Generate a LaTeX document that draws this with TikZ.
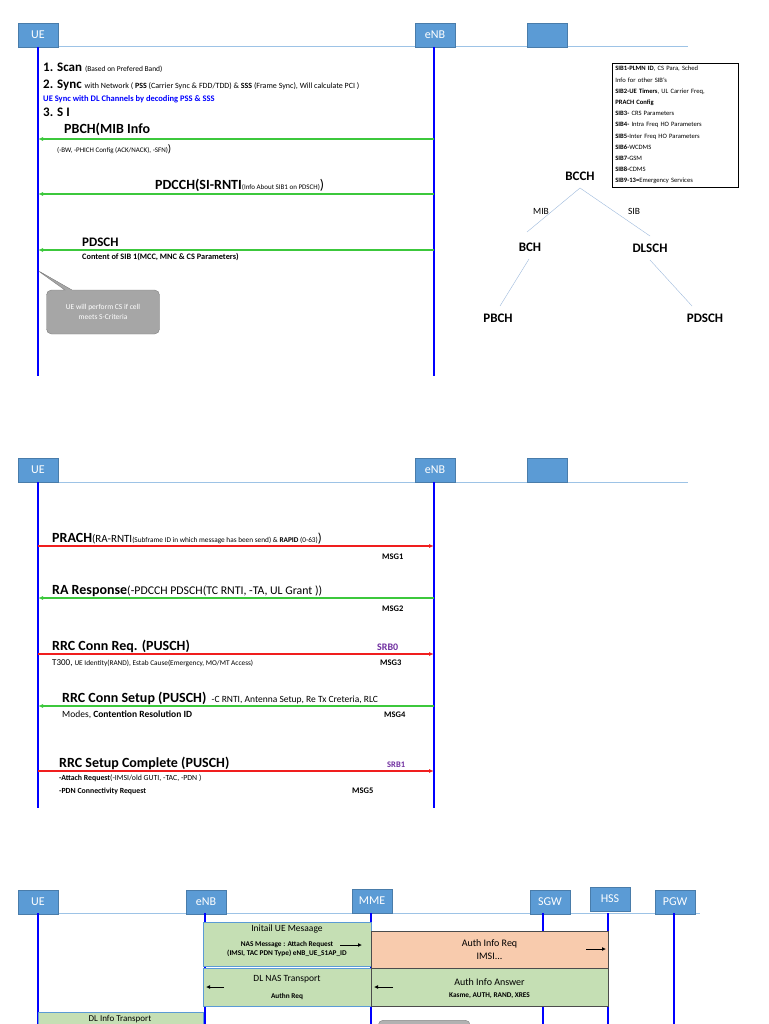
\documentclass[tikz,border=0pt]{standalone}
\usepackage{fontspec}
\setmainfont{Carlito}
\usetikzlibrary{arrows.meta,shapes.callouts}
\newcommand\fs[1]{\fontsize{#1}{#1}\selectfont}
\definecolor{hdr}{HTML}{5B9BD5}
\definecolor{hdrline}{HTML}{9DC3E6}
\definecolor{gr}{HTML}{3CC83C}
\definecolor{rd}{HTML}{F01E1E}
\definecolor{lgreen}{HTML}{C5DFB4}
\definecolor{lorange}{HTML}{F8CBAD}
\definecolor{pur}{HTML}{7030A0}
\definecolor{tree}{HTML}{9DB9DB}
\tikzset{
 hbox/.style={fill=hdr,draw=hdr!80!black,line width=0.4pt,text=white,font=\fontsize{12}{12}\selectfont,minimum width=40,minimum height=24,inner sep=0pt},
 life/.style={blue,line width=1.5pt},
 hline/.style={hdrline,line width=1pt},
 dl/.style={gr,line width=1.6pt,-{Latex[length=5pt,width=4pt]}},
 ul/.style={rd,line width=1.6pt,-{Latex[length=5pt,width=4pt]}},
 lab/.style={anchor=base west,inner sep=0pt},
 sm/.style={font=\fontsize{8.5}{9}\selectfont},
 tr/.style={font=\bfseries\fontsize{13}{13}\selectfont,inner sep=1pt},
 bx/.style={draw=black!70,line width=0.6pt,inner sep=0pt,align=center},
 sarr/.style={line width=1pt,-{Latex[length=4pt,width=4pt]}},
}
\begin{document}
\begin{tikzpicture}[x=1pt,y=-1pt]
\useasboundingbox (0,0) rectangle (768,1024);
\clip (0,0) rectangle (768,1024);
% ---------- section 1
\draw[hline] (18,47) -- (688,47);
\node[hbox] (ue1) at (38,35) {UE};
\node[hbox] (enb1) at (435,35) {eNB};
\node[hbox] (x1) at (547,35) {};
\coordinate (ue1b) at (38,376); \coordinate (enb1b) at (434,376);
\draw[life] (38,47) -- (ue1b);
\draw[life] (434,47) -- (enb1b);
\node[lab] (t1) at (43,72) {\fs{13}\bfseries 1. Scan \fs{7.5}\mdseries(Based on Prefered Band)};
\node[lab] (t2) at (43,89) {\fs{13}\bfseries 2. Sync \fs{8}\mdseries with Network ( \textbf{PSS} (Carrier Sync \& FDD/TDD) \& \textbf{SSS} (Frame Sync), Will calculate PCI )};
\node[lab,text=blue] (t3) at (43,102) {\fs{8.5}\bfseries UE Sync with DL Channels by decoding PSS \& SSS};
\node[lab] (t4) at (43,117) {\fs{13}\bfseries 3. S I};
\coordinate (a1s) at (434,139); \coordinate (a1e) at (38,139);
\draw[dl] (a1s) -- (a1e);
\node[lab] (l1) at (64,134) {\fs{14}\bfseries PBCH(MIB Info};
\node[lab] (l1b) at (57,153) {\fs{7}(-BW, -PHICH Config (ACK/NACK), -SFN)\fs{11})};
\coordinate (a2s) at (434,194); \coordinate (a2e) at (38,194);
\draw[dl] (a2s) -- (a2e);
\node[lab] (l2) at (155,190) {\fs{14}\bfseries PDCCH(SI-RNTI\fs{7}\mdseries(Info About SIB1 on PDSCH)\fs{14})};
\coordinate (a3s) at (434,250); \coordinate (a3e) at (38,250);
\draw[dl] (a3s) -- (a3e);
\node[lab] (l3) at (82,246) {\fs{13}\bfseries PDSCH};
\node[lab] (l3b) at (82,259) {\fs{8.3}\bfseries Content of SIB 1(MCC, MNC \& CS Parameters)};
\node[rectangle callout,rounded corners=5pt,fill=black!35,draw=black!50,text=white,minimum width=113,minimum height=44,align=center,font=\fontsize{7.5}{10}\selectfont,callout absolute pointer={(37,270)}] (co) at (103,312) {UE will perform CS if cell\\meets S-Criteria};
\node[draw,line width=0.7pt,anchor=north west,text width=120,inner sep=3pt,align=left,font=\fontsize{6.6}{11.2}\selectfont] (sib) at (612,63) {%
\textbf{SIB1-PLMN ID}, CS Para, Sched\\ Info for other SIB's\\
\textbf{SIB2-UE Timers}, UL Carrier Freq,\\ \textbf{PRACH Config}\\
\textbf{SIB3-} CRS Parameters\\
\textbf{SIB4-} Intra Freq HO Parameters\\
\textbf{SIB5-}Inter Freq HO Parameters\\
\textbf{SIB6-}WCDMS\\
\textbf{SIB7-}GSM\\
\textbf{SIB8-}CDMS\\
\textbf{SIB9-13=}Emergency Services};
\node[tr] (bcch) at (580,176) {BCCH};
\node[tr] (bch) at (530,247) {BCH};
\node[tr] (dlsch) at (650,248) {DLSCH};
\node[tr] (pbch) at (498,318) {PBCH};
\node[tr] (pdsch) at (705,318) {PDSCH};
\node[font=\fontsize{9.5}{10}\selectfont] (mib) at (541,211) {MIB};
\node[font=\fontsize{9.5}{10}\selectfont] (sibl) at (634,211) {SIB};
\draw[tree] (580,188) -- (527,232);
\draw[tree] (580,188) -- (650,236);
\draw[tree] (529,259) -- (500,306);
\draw[tree] (650,260) -- (692,306);
% ---------- section 2
\draw[hline] (18,482) -- (688,482);
\node[hbox] (ue2) at (38,470) {UE};
\node[hbox] (enb2) at (435,470) {eNB};
\node[hbox] (x2) at (547,470) {};
\coordinate (ue2b) at (38,808); \coordinate (enb2b) at (434,808);
\draw[life] (38,482) -- (ue2b);
\draw[life] (434,482) -- (enb2b);
\coordinate (m1s) at (38,546); \coordinate (m1e) at (434,546);
\draw[ul] (m1s) -- (m1e);
\node[lab] (p1) at (52,542) {\fs{14}\bfseries PRACH\fs{11}\mdseries(RA-RNTI\fs{7.3}(Subframe ID in which message has been send) \& \textbf{RAPID} (0-63)\fs{13})};
\node[lab,sm] (g1) at (382,559) {\bfseries MSG1};
\coordinate (m2s) at (434,598); \coordinate (m2e) at (38,598);
\draw[dl] (m2s) -- (m2e);
\node[lab] (p2) at (52,594) {\fs{14}\bfseries RA Response\fs{11.8}\mdseries(-PDCCH PDSCH(TC RNTI, -TA, UL Grant ))};
\node[lab,sm] (g2) at (382,611) {\bfseries MSG2};
\coordinate (m3s) at (38,654); \coordinate (m3e) at (434,654);
\draw[ul] (m3s) -- (m3e);
\node[lab] (p3) at (52,650) {\fs{14}\bfseries RRC Conn Req. (PUSCH)};
\node[lab,text=pur] (s0) at (377,650) {\fs{10}\bfseries SRB0};
\node[lab] (p3b) at (52,665) {\fs{9}T300, \fs{7.3}UE Identity(RAND), Estab Cause(Emergency, MO/MT Access)};
\node[lab,sm] (g3) at (380,665) {\bfseries MSG3};
\coordinate (m4s) at (434,706); \coordinate (m4e) at (38,706);
\draw[dl] (m4s) -- (m4e);
\node[lab] (p4) at (62,702) {\fs{14}\bfseries RRC Conn Setup (PUSCH) \fs{9.5}\mdseries\ -C RNTI, Antenna Setup, Re Tx Creteria, RLC};
\node[lab] (p4b) at (62,717) {\fs{9.5}Modes, \bfseries Contention Resolution ID};
\node[lab,sm] (g4) at (384,717) {\bfseries MSG4};
\coordinate (m5s) at (38,771); \coordinate (m5e) at (434,771);
\draw[ul] (m5s) -- (m5e);
\node[lab] (p5) at (59,767) {\fs{14}\bfseries RRC Setup Complete (PUSCH)};
\node[lab,text=pur,sm] (s1) at (387,767) {\bfseries SRB1};
\node[lab] (p5b) at (59,780) {\fs{7.8}\bfseries -Attach Request\mdseries(-IMSI/old GUTI, -TAC, -PDN )};
\node[lab] (p5c) at (59,793) {\fs{7.8}\bfseries -PDN Connectivity Request};
\node[lab,sm] (g5) at (352,793) {\bfseries MSG5};
% ---------- section 3
\draw[hline] (18,913) -- (700,913);
\node[hbox] (ue3) at (38,902) {UE};
\node[hbox] (enb3) at (206,902) {eNB};
\node[hbox] (mme) at (372,901) {MME};
\node[hbox] (sgw) at (550,902) {SGW};
\node[hbox] (hss) at (610,899) {HSS};
\node[hbox] (pgw) at (675,902) {PGW};
\foreach \n/\x in {u/38,e/205,m/371,s/543,h/608,p/674}{\coordinate (\n3b) at (\x,1024);}
\draw[life] (38,913) -- (u3b);
\draw[life] (205,913) -- (e3b);
\draw[life] (371,913) -- (m3b);
\draw[life] (543,913) -- (s3b);
\draw[life] (608,913) -- (h3b);
\draw[life] (674,913) -- (p3b);
\node[bx,fill=lgreen,minimum width=168,minimum height=44,draw=hdr] (iue) at (287,944) {};
\node[font=\fontsize{9.5}{10}\selectfont] (iuet) at (287,929) {Initail UE Mesaage};
\node[font=\fontsize{7.3}{9}\selectfont\bfseries,align=center] (iueb) at (287,949) {NAS Message : Attach Request\\(IMSI, TAC PDN Type) eNB\_UE\_S1AP\_ID};
\coordinate (ia1) at (340,945); \coordinate (ia2) at (362,945);
\draw[sarr] (ia1) -- (ia2);
\node[bx,fill=lorange,minimum width=237,minimum height=37] (air) at (489.5,949.5) {};
\node[font=\fontsize{10}{13}\selectfont,align=center] (airt) at (489.5,950) {Auth Info Req\\IMSI...};
\coordinate (ar1) at (586,949); \coordinate (ar2) at (606,949);
\draw[sarr] (ar1) -- (ar2);
\node[bx,fill=lgreen,minimum width=168,minimum height=38,draw=hdr] (dln) at (287,987) {};
\node[font=\fontsize{9.5}{10}\selectfont] (dlnt) at (287,979) {DL NAS Transport};
\node[font=\fontsize{7.3}{8}\selectfont\bfseries] (dlnb) at (287,996) {Authn Req};
\coordinate (da1) at (224,987); \coordinate (da2) at (206,987);
\draw[sarr] (da1) -- (da2);
\node[bx,fill=lgreen,minimum width=237,minimum height=38] (aia) at (489.5,987) {};
\node[font=\fontsize{10}{10}\selectfont] (aiat) at (489.5,982) {Auth Info Answer};
\node[font=\fontsize{7.3}{8}\selectfont\bfseries] (aiab) at (489.5,996) {Kasme, AUTH, RAND, XRES};
\coordinate (ba1) at (393,987); \coordinate (ba2) at (374,987);
\draw[sarr] (ba1) -- (ba2);
\node[bx,fill=lgreen,minimum width=165,minimum height=30,draw=hdr,anchor=north west] (dli) at (38,1012) {};
\node[font=\fontsize{9}{9}\selectfont] (dlit) at (120,1019) {DL Info Transport};
\node[draw=black!50,fill=black!30,rounded corners=5pt,minimum width=92,minimum height=16,anchor=north west] (gr3) at (378,1020) {};
\end{tikzpicture}
\end{document}
